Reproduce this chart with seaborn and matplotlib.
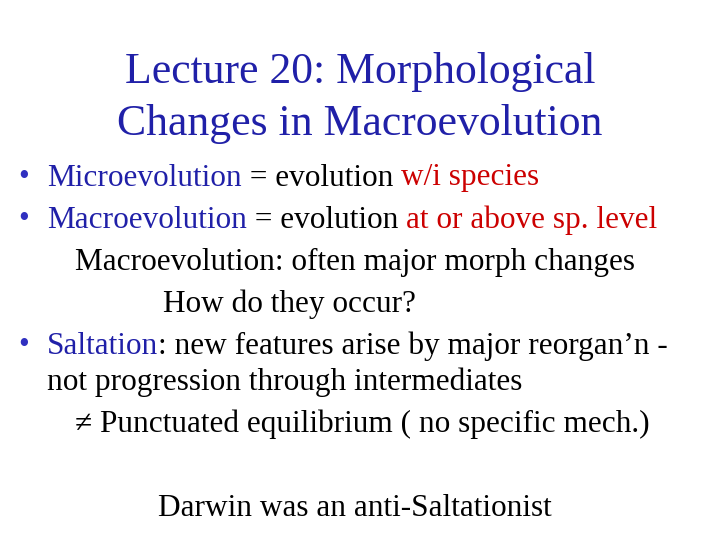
import seaborn as sns
import matplotlib.pyplot as plt

sns.set_theme(style='white')
plt.rcParams['font.family'] = ['Liberation Serif', 'DejaVu Serif']

BLUE = '#2020a8'
BULLET = '#3030c0'
RED = '#cc0000'
BLACK = '#000000'

title_lines = ['Lecture 20: Morphological', 'Changes in Macroevolution']
title_y = [70, 122]

# each body line: (x start px, y center px, [(text, colour), ...])
body_lines = [
    (47, 178, [('Microevolution', BLUE), (' = evolution ', BLACK), ('w/i species', RED)]),
    (47, 220, [('Macroevolution', BLUE), (' = evolution ', BLACK), ('at or above sp. level', RED)]),
    (75, 262, [('Macroevolution: often major morph changes', BLACK)]),
    (163, 304, [('How do they occur?', BLACK)]),
    (47, 346, [('Saltation', BLUE), (': new features arise by major reorgan\u2019n -', BLACK)]),
    (47, 382, [('not progression through intermediates', BLACK)]),
    (75, 424, [('\u2260 ', BLACK), ('Punctuated equilibrium ( no specific mech.)', BLACK)]),
    (158, 508, [('Darwin was an anti-Saltationist', BLACK)]),
]
bullet_y = [178, 220, 346]

W, H = 720, 540
fig = plt.figure(figsize=(7.2, 5.4), dpi=100)
fig.patch.set_facecolor('white')

def fx(x):
    return x / W

def fy(y):
    return 1 - y / H

for t, y in zip(title_lines, title_y):
    fig.text(0.5, fy(y + 2), t, ha='center', va='center', fontsize=31.5, color=BLUE)

for y in bullet_y:
    fig.text(fx(18), fy(y), '\u2022', ha='left', va='center', fontsize=22, color=BULLET)

fig.canvas.draw()
renderer = fig.canvas.get_renderer()
for x0, y, segs in body_lines:
    x = x0
    for s, c in segs:
        t = fig.text(fx(x), fy(y), s, ha='left', va='center', fontsize=22.5, color=c)
        x += t.get_window_extent(renderer).width

fig.savefig('out.png', dpi=100, facecolor='white')
